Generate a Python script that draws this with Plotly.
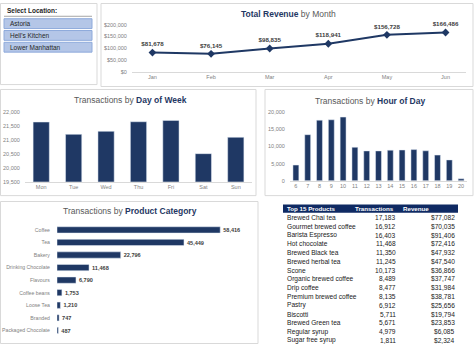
import plotly.graph_objects as go

# ---- data ----
locations = ["Astoria", "Hell's Kitchen", "Lower Manhattan"]

months = ["Jan", "Feb", "Mar", "Apr", "May", "Jun"]
revenue = [81678, 76145, 98835, 118941, 156728, 166486]

weekdays = ["Mon", "Tue", "Wed", "Thu", "Fri", "Sat", "Sun"]
weekday_tx = [21643, 21202, 21310, 21654, 21701, 20510, 21096]

hours = ["6", "7", "8", "9", "10", "11", "12", "13", "14", "15", "16", "17", "18", "19", "20"]
hour_tx = [4594, 13428, 17654, 17764, 18545, 9766, 8708, 8714, 8933, 8979, 9093, 8745, 7498, 6092, 603]

categories = ["Coffee", "Tea", "Bakery", "Drinking Chocolate", "Flavours",
              "Coffee beans", "Loose Tea", "Branded", "Packaged Chocolate"]
category_tx = [58416, 45449, 22796, 11468, 6790, 1753, 1210, 747, 487]

top_products = ["Brewed Chai tea", "Gourmet brewed coffee", "Barista Espresso", "Hot chocolate",
                "Brewed Black tea", "Brewed herbal tea", "Scone", "Organic brewed coffee",
                "Drip coffee", "Premium brewed coffee", "Pastry", "Biscotti",
                "Brewed Green tea", "Regular syrup", "Sugar free syrup"]
top_tx = [17183, 16912, 16403, 11468, 11350, 11245, 10173, 8489, 8477, 8135, 6912, 5711, 5671, 4979, 1811]
top_rev = [77082, 70035, 91406, 72416, 47932, 47540, 36866, 37747, 31984, 38781, 25656, 19794, 23853, 6085, 2324]
table_cols = ["Top 15 Products", "Transactions", "Revenue"]

# ---- styling ----
W, H = 474, 347
NAVY = "#1f3864"
HEAD = "#0f2a63"
GRAY_TXT = "#595959"
TICK = "#7f7f7f"
BORDER = "#d9d9d9"
FONT = "Liberation Sans"


def fx(px):
    return px / W


def fy(py):
    return 1 - py / H


fig = go.Figure()

# revenue line
fig.add_trace(go.Scatter(
    x=months, y=revenue, mode="lines+markers+text",
    line=dict(color=NAVY, width=2), marker=dict(symbol="diamond", size=6, color=NAVY),
    text=[f"${v:,}" for v in revenue], textposition="top center",
    textfont=dict(size=6.2, color="#404040", family=FONT, weight="bold"),
    xaxis="x", yaxis="y", cliponaxis=False, hoverinfo="skip"))

# day-of-week bars
fig.add_trace(go.Bar(x=weekdays, y=weekday_tx, marker_color=NAVY,
                     xaxis="x2", yaxis="y2", hoverinfo="skip"))

# hour-of-day bars
fig.add_trace(go.Bar(x=hours, y=hour_tx, marker_color=NAVY,
                     xaxis="x3", yaxis="y3", hoverinfo="skip"))

# category bars
fig.add_trace(go.Bar(
    x=category_tx, y=categories, orientation="h", marker_color=NAVY,
    text=[f"{v:,}" for v in category_tx], textposition="outside",
    textfont=dict(size=6.2, color="#404040", family=FONT, weight="bold"),
    cliponaxis=False, xaxis="x4", yaxis="y4", hoverinfo="skip"))

tickfont = dict(size=5.5, color=TICK, family=FONT)
common_x = dict(type="category", showgrid=False, zeroline=False, showline=True,
                linecolor=BORDER, linewidth=1, ticks="", tickfont=tickfont, fixedrange=True)
common_y = dict(showgrid=False, zeroline=False, showline=False, tickfont=tickfont,
                ticks="outside", ticklen=3, tickcolor="rgba(0,0,0,0)", fixedrange=True)

shapes = []
annotations = []


def panel(x0, y0, x1, y1):
    shapes.append(dict(type="rect", xref="paper", yref="paper",
                       x0=fx(x0), x1=fx(x1), y0=fy(y1), y1=fy(y0),
                       line=dict(color=BORDER, width=1), fillcolor="white", layer="below"))


def title(cx, cy, plain, bold, bold_first=False):
    if bold_first:
        txt = f"<b><span style='color:{NAVY}'>{bold}</span></b>{plain}"
    else:
        txt = f"{plain}<b><span style='color:{NAVY}'>{bold}</span></b>"
    annotations.append(dict(text=txt, x=fx(cx), y=fy(cy), xref="paper", yref="paper",
                            xanchor="center", yanchor="middle", showarrow=False,
                            font=dict(size=8.5, color=GRAY_TXT, family=FONT)))


# panels
panel(0.5, 0.5, 97, 83)
panel(101, 0.5, 473, 85)
panel(0.5, 88, 256, 196)
panel(265, 88, 473, 196)
panel(0.5, 202, 258, 346.5)

# slicer
annotations.append(dict(text="<b>Select Location:</b>", x=fx(5), y=fy(8), xref="paper", yref="paper",
                        xanchor="left", yanchor="middle", showarrow=False,
                        font=dict(size=6.5, color="#262626", family=FONT)))
shapes.append(dict(type="line", xref="paper", yref="paper", x0=fx(4), x1=fx(92),
                   y0=fy(13.5), y1=fy(13.5), line=dict(color="#a6a6a6", width=1)))
for i, loc in enumerate(locations):
    top = 16 + i * 12
    shapes.append(dict(type="rect", xref="paper", yref="paper", x0=fx(4), x1=fx(92),
                       y0=fy(top + 10), y1=fy(top), fillcolor="#b4c6e7",
                       line=dict(color="#8eaadb", width=1)))
    annotations.append(dict(text=loc, x=fx(8), y=fy(top + 5), xref="paper", yref="paper",
                            xanchor="left", yanchor="middle", showarrow=False,
                            font=dict(size=6.5, color="#262626", family=FONT)))

# titles
title(288, 11, " by Month", "Total Revenue", bold_first=True)
title(130, 99, "Transactions by ", "Day of Week")
title(370, 100, "Transactions by ", "Hour of Day")
title(130, 212, "Transactions by ", "Product Category")

# top products table
TX0, TX1 = 283, 458
shapes.append(dict(type="rect", xref="paper", yref="paper", x0=fx(TX0), x1=fx(TX1),
                   y0=fy(213.5), y1=fy(205), fillcolor=HEAD, line=dict(width=0)))
head_font = dict(size=6.2, color="white", family=FONT)
annotations.append(dict(text=f"<b>{table_cols[0]}</b>", x=fx(285), y=fy(209.3), xref="paper", yref="paper",
                        xanchor="left", yanchor="middle", showarrow=False, font=head_font))
annotations.append(dict(text=f"<b>{table_cols[1]}</b>", x=fx(396), y=fy(209.3), xref="paper", yref="paper",
                        xanchor="right", yanchor="middle", showarrow=False, font=head_font))
annotations.append(dict(text=f"<b>{table_cols[2]}</b>", x=fx(401), y=fy(209.3), xref="paper", yref="paper",
                        xanchor="left", yanchor="middle", showarrow=False, font=head_font))
cell_font = dict(size=6.6, color="#1a1a1a", family=FONT)
for i, (p, t, r) in enumerate(zip(top_products, top_tx, top_rev)):
    yy = fy(218.3 + i * 8.93)
    annotations.append(dict(text=p, x=fx(285), y=yy, xref="paper", yref="paper",
                            xanchor="left", yanchor="middle", showarrow=False, font=cell_font))
    annotations.append(dict(text=f"{t:,}", x=fx(398), y=yy, xref="paper", yref="paper",
                            xanchor="right", yanchor="middle", showarrow=False, font=cell_font))
    annotations.append(dict(text=f"${r:,}", x=fx(457), y=yy, xref="paper", yref="paper",
                            xanchor="right", yanchor="middle", showarrow=False, font=cell_font))

fig.update_layout(
    width=W, height=H, margin=dict(l=0, r=0, t=0, b=0),
    paper_bgcolor="white", plot_bgcolor="rgba(0,0,0,0)",
    showlegend=False, bargap=0.5,
    font=dict(family=FONT),
    xaxis=dict(common_x, domain=[fx(132), fx(466)]),
    yaxis=dict(common_y, domain=[fy(70), fy(22)], range=[0, 200000],
               tickvals=[0, 50000, 100000, 150000, 200000], tickformat="$,.0f"),
    xaxis2=dict(common_x, domain=[fx(25), fx(252)], anchor="y2"),
    yaxis2=dict(common_y, domain=[fy(182), fy(111)], range=[19500, 22000],
                dtick=500, tickformat=",", anchor="x2"),
    xaxis3=dict(common_x, domain=[fx(290), fx(467)], anchor="y3"),
    yaxis3=dict(common_y, domain=[fy(181), fy(111)], range=[0, 20000],
                dtick=5000, tickformat=",", anchor="x3"),
    xaxis4=dict(domain=[fx(57), fx(240)], range=[0, 65500], visible=False,
                anchor="y4", fixedrange=True),
    yaxis4=dict(common_y, type="category", autorange="reversed",
                domain=[fy(339.5), fy(224.5)], anchor="x4", ticklen=5,
                tickfont=dict(size=5.2, color=TICK, family=FONT)),
    shapes=shapes, annotations=annotations,
)
fig.update_xaxes(tickangle=0)

fig.write_html("out.html")
